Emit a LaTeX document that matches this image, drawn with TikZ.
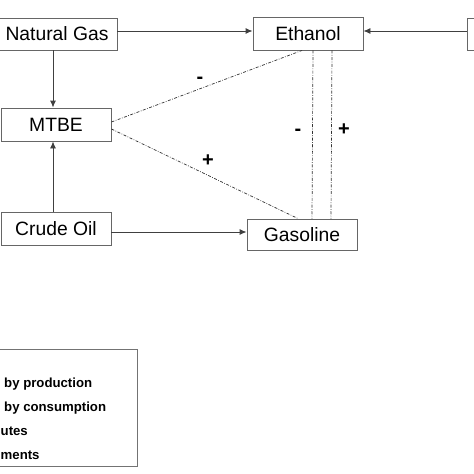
\documentclass[tikz,border=0pt]{standalone}
\usepackage{fontspec}
\setmainfont{Liberation Sans}
\usetikzlibrary{arrows.meta,calc}
\begin{document}
\begin{tikzpicture}[x=1pt,y=-1pt,
  box/.style={draw=black!60,line width=0.9pt,fill=white,inner sep=0pt,minimum width=110pt,minimum height=33pt,font=\fontsize{19.3}{22}\selectfont},
  arr/.style={draw=black!75,line width=0.9pt,-{Latex[length=7pt,width=6pt]}},
  dd/.style={draw=black!80,line width=0.7pt,dash pattern=on 3pt off 1.5pt on 0.7pt off 1.5pt},
  sgn/.style={font=\fontsize{20}{22}\selectfont\bfseries,inner sep=0pt},
  leg/.style={font=\fontsize{13.2}{15}\selectfont\bfseries,inner sep=0pt,anchor=west}]
\useasboundingbox[fill=white] (0,0) rectangle (474,474);
\node[box,minimum width=120pt,minimum height=32pt] (NG) at (57,34) {Natural Gas};
\node[box] (Eth) at (308,33.5) {Ethanol};
\node[box,minimum height=32pt] (RB) at (522,34) {};
\node[box] (MTBE) at (56,124.5) {MTBE};
\node[box] (CO) at (56,228.5) {Crude Oil};
\node[box,minimum height=31pt] (Gas) at (302,234.5) {Gasoline};
% arrows
\draw[arr] ([yshift=3pt]NG.east) -- ([yshift=3pt]NG.east -| Eth.west);
\draw[arr] ([yshift=3pt]RB.west) -- ([yshift=3pt]RB.west -| Eth.east);
\draw[arr] ([xshift=-4pt]NG.south) -- ([xshift=-4pt]NG.south |- MTBE.north);
\draw[arr] ([xshift=-3pt]CO.north) -- ([xshift=-3pt]CO.north |- MTBE.south);
\draw[arr] ([yshift=-3.5pt]CO.east) -- ([yshift=-3.5pt]CO.east -| Gas.west);
% dash-dot relations
\draw[dd] ([yshift=2.5pt]MTBE.east) -- ([xshift=-6pt]Eth.south);
\draw[dd] ([yshift=-4.5pt]MTBE.east) -- ([xshift=-4pt]Gas.north);
\draw[dd] ([xshift=5pt]Eth.south) -- ([xshift=10pt]Gas.north);
\draw[dd] ([xshift=24pt]Eth.south) -- ([xshift=29pt]Gas.north);
\node[sgn] (s1) at (200,80) {-};
\node[sgn] (s2) at (208,161) {+};
\node[sgn] (s3) at (298,132) {-};
\node[sgn] (s4) at (344,130) {+};
% legend
\draw[draw=black!55,line width=0.8pt] (-20,349) rectangle (137,466);
\node[leg] (l1) at (4,384) {by production};
\node[leg] (l2) at (4,408) {by consumption};
\node[leg] (l3) at (0.5,431) {utes};
\node[leg] (l4) at (0.5,455) {ments};
\end{tikzpicture}
\end{document}
